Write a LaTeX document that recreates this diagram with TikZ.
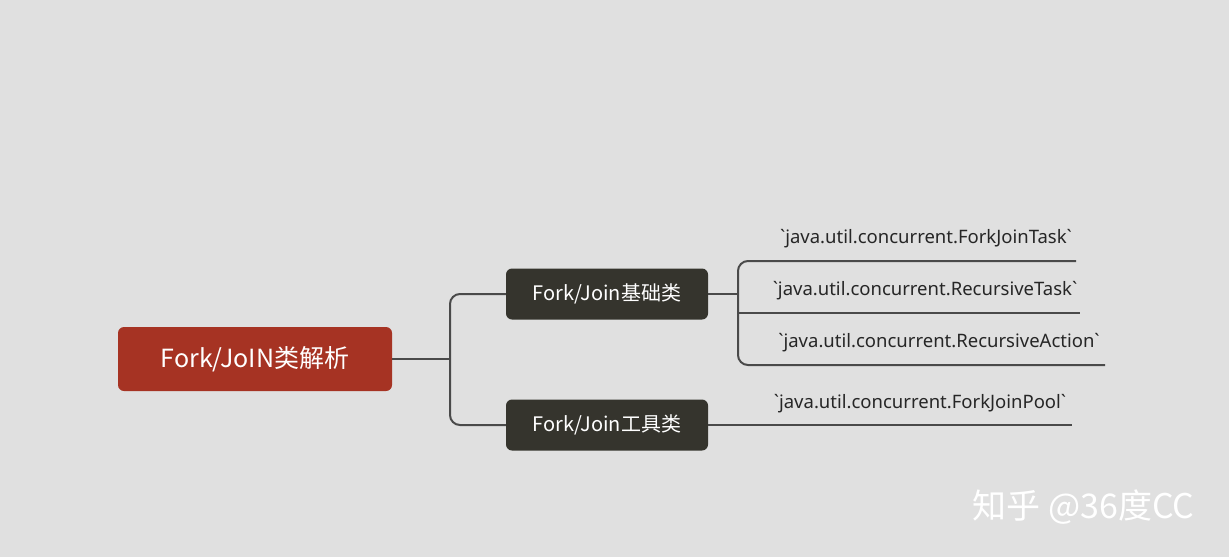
\documentclass[tikz,border=0pt]{standalone}
\usepackage{fontspec}
\setmainfont{Noto Sans CJK SC}
\newfontfamily\latinf{Noto Sans}
\definecolor{bg}{HTML}{E0E0E0}
\definecolor{rootc}{HTML}{A63323}
\definecolor{darkc}{HTML}{35342D}
\definecolor{linec}{HTML}{4A4A4A}
\newcommand{\bq}{\symbol{96}}
\begin{document}
\begin{tikzpicture}[x=1pt,y=-1pt,
  conn/.style={draw=linec,line width=2pt,rounded corners=10pt},
  rootbox/.style={fill=rootc,rounded corners=6pt,text=white,font=\fontsize{25}{28}\selectfont,minimum width=274pt,minimum height=64pt,inner sep=0pt},
  subbox/.style={fill=darkc,rounded corners=6pt,text=white,font=\fontsize{20}{22}\selectfont,minimum width=202pt,minimum height=51pt,inner sep=0pt},
  leaf/.style={text=black!85,font=\latinf\fontsize{18.5}{20}\selectfont,inner sep=0pt}]
\fill[bg] (0,0) rectangle (1229,557);
\useasboundingbox (0,0) rectangle (1229,557);
\node[rootbox] (root) at (255,359) {Fork/JoIN类解析};
\node[subbox] (s1) at (607,294) {Fork/Join基础类};
\node[subbox] (s2) at (607,425) {Fork/Join工具类};
\coordinate (j1) at (450,359);
\draw[conn] (root.east) -- (j1);
\draw[conn] (s1.west) -- (450,294) -- (450,425) -- (s2.west);
\node[leaf] (l1) at (926,239) {\bq java.util.concurrent.ForkJoinTask\bq};
\node[leaf] (l2) at (925,291) {\bq java.util.concurrent.RecursiveTask\bq};
\node[leaf] (l3) at (939,343) {\bq java.util.concurrent.RecursiveAction\bq};
\node[leaf] (l4) at (920,404) {\bq java.util.concurrent.ForkJoinPool\bq};
\coordinate (e1) at (1076,261);
\coordinate (e2) at (1080,313);
\coordinate (e3) at (1105,365);
\coordinate (e4) at (1072,425);
\draw[conn] (s1.east) -- (738,294);
\draw[conn] (e1) -- (738,261) -- (738,365) -- (e3);
\draw[conn] (738,313) -- (e2);
\draw[conn] (s2.east) -- (e4);
\node[text=white,font=\fontsize{34}{38}\selectfont,anchor=east] (wm) at (1198,507) {知乎 @36度CC};
\end{tikzpicture}
\end{document}
